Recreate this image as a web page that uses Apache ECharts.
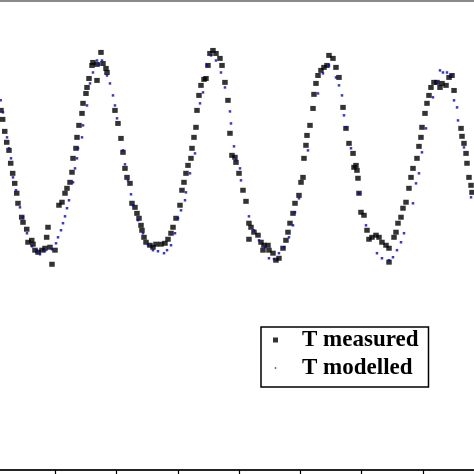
<!DOCTYPE html>
<html>
<head>
<meta charset="utf-8">
<script src="https://cdn.jsdelivr.net/npm/echarts@6/dist/echarts.min.js"></script>
<style>
    html, body { margin: 0; padding: 0; background: #fff; }
    #chart { width: 474px; height: 474px; }
</style>
</head>
<body>
<div id="chart"></div>
<script>
// time in hours, temperature in degrees
const measuredHours = [
    1.37, 1.70, 2.10, 2.49, 2.94, 3.27, 3.66, 4.06, 4.45, 4.70, 5.43, 5.68, 6.41, 6.66, 7.39, 7.64,
    8.03, 8.62, 9.40, 9.99, 10.32, 10.58, 10.97, 11.36, 11.95, 12.73, 13.32, 13.91, 14.30, 14.89,
    15.28, 15.48, 16.06, 16.26, 16.65, 17.24, 17.44, 18.02, 18.22, 18.61, 19.20, 19.39, 20.18, 20.18,
    20.96, 21.35, 21.94, 22.14, 23.70, 24.29, 24.88, 25.27, 25.66, 26.06, 26.64, 27.03, 27.62, 28.01,
    28.41, 28.80, 28.99, 29.39, 29.78, 30.56, 31.15, 31.74, 32.72, 33.50, 34.09, 34.68, 35.07, 35.66,
    36.44, 36.83, 37.22, 37.61, 38.01, 38.59, 38.79, 39.18, 39.57, 39.77, 40.16, 40.55, 41.14, 41.53,
    41.92, 42.31, 42.90, 43.49, 44.27, 44.67, 45.25, 45.84, 46.23, 46.62, 47.21, 47.41, 48.00, 48.78,
    49.37, 49.95, 50.35, 50.93, 51.72, 49.95, 52.31, 52.89, 53.68, 53.87, 52.70, 54.66, 55.83, 55.24,
    56.62, 57.20, 57.60, 57.99, 58.58, 58.97, 59.75, 60.15, 60.54, 60.73, 61.12, 61.32, 61.91, 62.50,
    62.69, 63.08, 63.48, 64.06, 64.65, 65.24, 65.63, 66.41, 67.00, 67.59, 68.38, 68.96, 69.55, 70.34,
    70.53, 70.92, 71.11, 71.31, 71.51, 71.90, 72.49, 73.08, 73.47, 74.05, 74.84, 75.43, 76.01, 76.80,
    77.39, 77.39, 78.37, 78.76, 79.15, 79.74, 80.13, 80.72, 81.30, 81.70, 82.09, 82.87, 83.26, 83.65,
    83.85, 84.44, 84.83, 85.22, 85.61, 86.20, 86.79, 87.38, 87.77, 88.56, 89.15, 89.73, 90.13, 91.50,
    91.69, 92.08, 92.48, 92.67, 93.06, 93.46, 93.65
];
const measuredTemp = [
    24.0, 23.4, 22.6, 21.87, 21.33, 20.47, 19.8, 19.13, 18.47, 17.8, 16.87, 16.53, 16.07, 15.2, 15.33, 15.07,
    14.67, 14.53, 14.67, 14.8, 15.53, 16.2, 14.87, 13.73, 14.67, 17.67, 17.87, 18.47, 18.8, 19.2,
    19.87, 20.8, 21.47, 22.2, 23.0, 23.8, 24.47, 25.13, 25.53, 26.13, 27.0, 27.2, 26.0, 27.07,
    27.87, 27.13, 26.8, 26.53, 24.0, 23.13, 22.13, 21.2, 20.13, 19.53, 19.13, 17.8, 17.53, 17.13,
    16.8, 16.33, 16.0, 15.53, 15.2, 15.0, 14.87, 15.07, 15.07, 15.13, 15.4, 15.8, 16.2, 16.8,
    17.67, 18.67, 19.2, 19.8, 20.33, 20.8, 21.47, 22.2, 22.87, 24.0, 25.0, 25.67, 26.07, 26.13,
    27.0, 27.8, 28.0, 27.8, 27.47, 27.0, 25.87, 24.67, 22.47, 21.0, 20.87, 20.53, 19.8, 18.67,
    17.93, 16.47, 16.2, 15.87, 15.67, 15.4, 15.2, 15.0, 15.0, 14.67, 14.67, 14.47, 14.13, 14.0,
    14.8, 15.33, 15.87, 16.47, 17.13, 17.8, 18.33, 19.2, 19.53, 20.8, 21.67, 22.33, 23.0, 24.13,
    25.07, 25.8, 26.33, 26.67, 26.87, 27.0, 27.67, 27.47, 26.87, 26.2, 24.2, 22.8, 21.8, 21.13,
    20.2, 20.33, 20.0, 19.47, 18.47, 17.2, 17.0, 16.0, 15.4, 15.53, 15.67, 15.53, 15.2, 15.0,
    14.8, 13.87, 15.53, 15.87, 16.47, 16.87, 17.47, 17.87, 18.8, 19.53, 20.13, 20.8, 21.6, 22.2,
    22.87, 23.8, 24.47, 25.0, 25.53, 25.87, 25.87, 25.53, 25.8, 25.67, 26.2, 26.33, 25.33, 22.8,
    22.27, 21.8, 21.13, 20.47, 19.53, 19.0, 18.53
];
const modelledHours = [
    1.31, 1.76, 2.55, 2.94, 3.33, 3.72, 4.31, 5.09, 5.68, 6.46, 7.44, 8.42, 9.01, 9.99, 11.36, 12.15,
    12.54, 13.13, 13.52, 13.91, 14.30, 14.69, 15.48, 15.87, 16.26, 16.46, 17.24, 17.44, 18.22, 18.81,
    19.39, 20.18, 20.57, 21.16, 22.14, 22.72, 23.31, 23.70, 24.10, 25.27, 25.66, 26.25, 26.84, 27.23,
    28.21, 29.19, 30.17, 31.15, 32.13, 33.31, 33.90, 34.68, 35.46, 36.05, 36.64, 37.42, 37.61, 38.40,
    39.38, 40.36, 40.95, 41.73, 42.52, 43.49, 44.47, 45.25, 46.23, 46.43, 47.02, 47.41, 48.20, 48.39,
    49.95, 50.93, 51.92, 53.09, 53.87, 54.85, 55.83, 56.81, 57.79, 58.58, 58.97, 59.75, 61.51, 63.48,
    64.45, 65.63, 67.00, 67.59, 68.18, 68.57, 68.96, 69.94, 71.51, 72.88, 75.03, 76.01, 77.39, 78.17,
    78.95, 79.74, 80.33, 82.09, 82.68, 83.26, 83.85, 84.64, 86.00, 86.79, 87.38, 87.96, 88.75, 89.54,
    90.13, 90.72, 90.91, 92.08, 93.46
];
const modelledTemp = [
    24.67, 23.87, 22.2, 21.47, 20.8, 19.53, 18.67, 17.53, 16.87, 15.8, 14.93, 14.67, 14.4, 14.6, 14.73, 15.13,
    15.53, 16.0, 16.47, 16.93, 17.47, 18.0, 19.2, 20.13, 20.8, 21.47, 22.2, 23.0, 24.33, 25.8,
    26.53, 27.33, 27.07, 27.33, 26.33, 25.8, 25.0, 24.33, 23.47, 21.33, 20.4, 19.33, 18.4, 17.67,
    16.67, 15.8, 15.0, 14.67, 14.6, 14.47, 14.67, 15.0, 15.8, 16.8, 17.33, 18.0, 18.53, 19.8,
    21.13, 24.47, 25.2, 27.0, 27.67, 27.33, 26.53, 25.53, 23.93, 23.13, 21.6, 20.67, 20.13, 19.33,
    16.93, 16.0, 15.33, 14.87, 14.13, 14.07, 14.47, 14.87, 15.53, 16.33, 17.2, 18.13, 21.33, 25.13,
    26.47, 27.0, 26.2, 25.67, 25.0, 23.67, 22.87, 21.47, 18.47, 16.33, 14.47, 14.13, 14.0, 14.2,
    14.67, 15.2, 15.8, 17.8, 19.13, 19.8, 21.2, 22.8, 24.87, 25.87, 26.67, 26.53, 26.53, 26.33,
    24.67, 24.2, 23.33, 21.53, 18.2
];
const seriesNames = ['T measured', 'T modelled'];

const measured = measuredHours.map((h, i) => [h, measuredTemp[i]]);
const modelled = modelledHours.map((h, i) => [h, modelledTemp[i]]);

const option = {
    backgroundColor: '#fff',
    animation: false,
    grid: {
        left: -6,
        top: 1,
        width: 490,
        bottom: 4,
        outerBoundsMode: 'none',
        containLabel: false,
        show: true,
        borderColor: '#8a8a8a',
        borderWidth: 2,
        backgroundColor: 'transparent'
    },
    legend: {
        orient: 'vertical',
        left: 261,
        top: 327,
        padding: [0, 10, 6, 12],
        itemGap: 2,
        itemWidth: 5,
        itemHeight: 5,
        borderColor: '#000',
        borderWidth: 1.5,
        textStyle: {
            fontFamily: "'Liberation Serif', 'DejaVu Serif', serif",
            fontWeight: 'bold',
            fontSize: 23,
            lineHeight: 26,
            color: '#000',
            padding: [0, 0, 0, 19]
        },
        data: [
            { name: seriesNames[0], icon: 'rect' },
            { name: seriesNames[1], icon: 'path://M0,0M10,10M3.5,3.5h3v3h-3z' }
        ]
    },
    xAxis: {
        type: 'value',
        min: 0,
        max: 96,
        interval: 12,
        axisLine: { show: true, lineStyle: { color: '#000', width: 1.5 } },
        axisTick: { show: true, inside: false, length: 5, lineStyle: { color: '#000', width: 1.2 } },
        axisLabel: { show: false },
        splitLine: { show: false }
    },
    yAxis: {
        type: 'value',
        min: 0,
        max: 31.3,
        show: false,
        splitLine: { show: false }
    },
    series: [
        {
            name: seriesNames[0],
            type: 'scatter',
            symbol: 'rect',
            symbolSize: [5.5, 5],
            itemStyle: { color: '#000' },
            data: measured
        },
        {
            name: seriesNames[1],
            type: 'scatter',
            symbol: 'rect',
            symbolSize: 2.5,
            itemStyle: { color: '#0808b4' },
            data: modelled
        }
    ]
};

const myChart = echarts.init(document.getElementById('chart'));
myChart.setOption(option);
window.addEventListener('resize', () => {
    myChart.resize();
});
</script>
</body>
</html>
